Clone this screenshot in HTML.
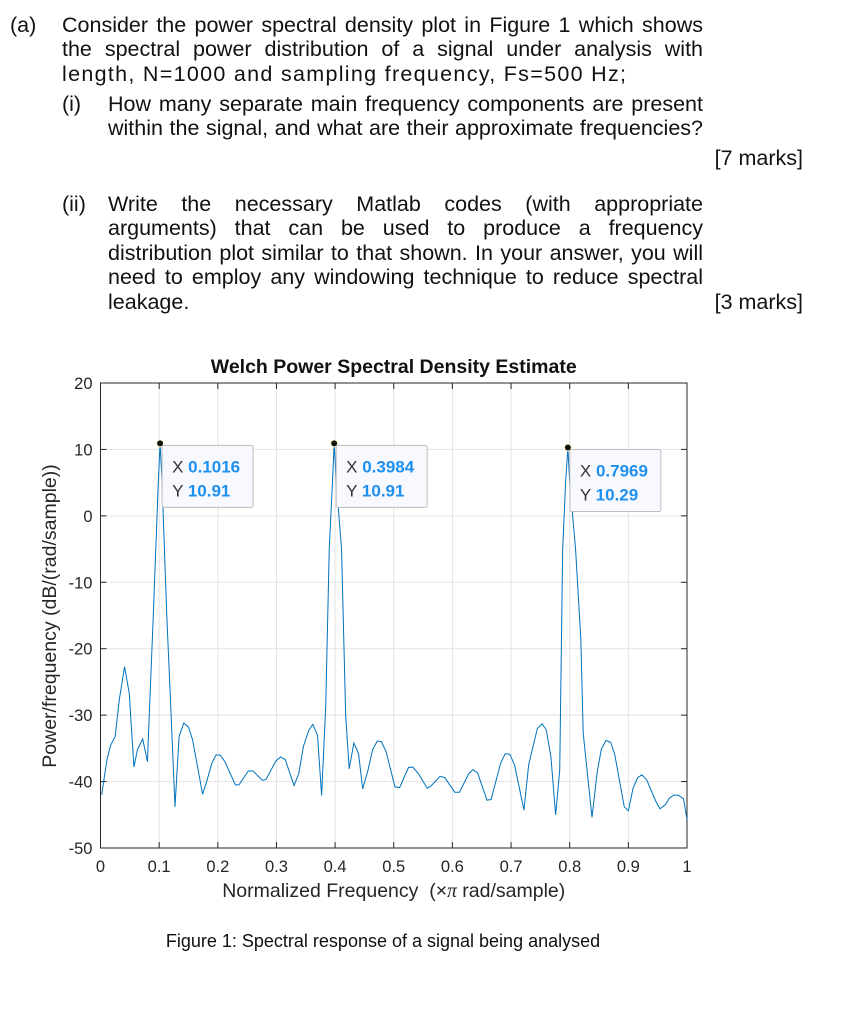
<!DOCTYPE html>
<html><head><meta charset="utf-8">
<style>
body{margin:0;width:841px;height:1024px;background:#fff;position:relative;font-family:"Liberation Sans",Arial,sans-serif;color:#111;overflow:hidden}
.t{position:absolute;font-size:21.5px;line-height:24.5px;height:25px;white-space:nowrap;overflow:hidden}
.j{text-align:justify;text-align-last:justify;white-space:normal}
</style></head><body>
<div class="t" style="left:10px;top:13px">(a)</div>
<div class="t j" style="left:62px;top:13px;width:641px">Consider the power spectral density plot in Figure 1 which shows</div>
<div class="t j" style="left:62px;top:37px;width:641px">the spectral power distribution of a signal under analysis with</div>
<div class="t" style="left:62px;top:62px;letter-spacing:1.3px">length, N=1000 and sampling frequency, Fs=500 Hz;</div>
<div class="t" style="left:62px;top:92px">(i)</div>
<div class="t j" style="left:108px;top:92px;width:595px">How many separate main frequency components are present</div>
<div class="t j" style="left:108px;top:116px;width:595px">within the signal, and what are their approximate frequencies?</div>
<div class="t" style="right:38px;top:146px">[7 marks]</div>
<div class="t" style="left:62px;top:192px">(ii)</div>
<div class="t j" style="left:108px;top:192px;width:595px">Write the necessary Matlab codes (with appropriate</div>
<div class="t j" style="left:108px;top:216px;width:595px">arguments) that can be used to produce a frequency</div>
<div class="t j" style="left:108px;top:241px;width:595px">distribution plot similar to that shown. In your answer, you will</div>
<div class="t j" style="left:108px;top:265px;width:595px">need to employ any windowing technique to reduce spectral</div>
<div class="t" style="left:108px;top:290px">leakage.</div>
<div class="t" style="right:38px;top:290px">[3 marks]</div>

<svg id="chart" width="841" height="1024" style="position:absolute;left:0;top:0" xmlns="http://www.w3.org/2000/svg" font-family="Liberation Sans, Arial, sans-serif"></svg>

<script>
const xTicks=[0,0.1,0.2,0.3,0.4,0.5,0.6,0.7,0.8,0.9,1];
const xTickLabels=["0","0.1","0.2","0.3","0.4","0.5","0.6","0.7","0.8","0.9","1"];
const yTicks=[20,10,0,-10,-20,-30,-40,-50];
const yTickLabels=["20","10","0","-10","-20","-30","-40","-50"];
const freq=[0.002,0.011,0.017,0.025,0.032,0.041,0.049,0.057,0.063,0.072,0.080,0.090,0.0985,0.1016,0.105,0.113,0.120,0.127,0.134,0.142,0.150,0.157,0.174,0.181,0.190,0.197,0.204,0.212,0.230,0.236,0.252,0.260,0.276,0.282,0.299,0.307,0.315,0.330,0.338,0.346,0.355,0.362,0.370,0.377,0.384,0.390,0.3955,0.3984,0.402,0.411,0.418,0.424,0.432,0.440,0.447,0.456,0.464,0.472,0.479,0.487,0.502,0.510,0.525,0.532,0.542,0.557,0.563,0.579,0.587,0.604,0.612,0.628,0.635,0.643,0.659,0.666,0.682,0.690,0.698,0.706,0.722,0.730,0.738,0.745,0.753,0.760,0.768,0.776,0.783,0.788,0.793,0.7969,0.800,0.810,0.819,0.823,0.838,0.847,0.854,0.862,0.870,0.877,0.893,0.900,0.908,0.916,0.923,0.931,0.947,0.954,0.963,0.970,0.978,0.986,0.994,1.0];
const power=[-42.0,-36.7,-34.6,-33.2,-27.7,-22.7,-26.7,-37.8,-35.2,-33.6,-37.0,-15,5,10.91,5,-15,-29.2,-43.8,-33.2,-31.2,-31.8,-33.7,-41.9,-40.0,-37.2,-36.0,-36.0,-37.0,-40.5,-40.5,-38.4,-38.4,-39.8,-39.7,-36.9,-36.3,-36.7,-40.6,-38.8,-34.7,-32.3,-31.4,-33.0,-42.1,-28.7,-5,5,10.91,5,-5,-30,-38.1,-34.2,-35.8,-41.1,-38.3,-35.2,-33.9,-34.0,-35.5,-40.8,-40.9,-37.9,-37.8,-38.8,-41.0,-40.7,-39.2,-39.4,-41.6,-41.6,-38.8,-38.2,-38.7,-42.8,-42.7,-37.3,-35.8,-35.9,-37.5,-44.3,-37.5,-34.5,-32.0,-31.3,-32.2,-36.3,-45.0,-38.3,-5,5,10.29,5,-5,-18.6,-32.7,-45.4,-38.5,-35.1,-33.8,-34.1,-36.0,-43.8,-44.4,-41.0,-39.4,-39.0,-39.7,-43.0,-44.1,-43.5,-42.5,-42.0,-42.1,-42.6,-45.7];
const tipX=[0.1016,0.3984,0.7969];
const tipY=[10.91,10.91,10.29];
const tipXLabels=["0.1016","0.3984","0.7969"];
const tipYLabels=["10.91","10.91","10.29"];

const L=100.5,R=687,T=383,B=848;
const sx=v=>L+(v-0)/(1-0)*(R-L);
const sy=v=>T+(20-v)/(20-(-50))*(B-T);
const svg=document.getElementById('chart');
function mk(tag,attrs,parent){const e=document.createElementNS('http://www.w3.org/2000/svg',tag);for(const k in attrs)e.setAttribute(k,attrs[k]);(parent||svg).appendChild(e);return e;}

const grid=mk('g',{});


xTicks.forEach(v=>{mk('line',{x1:sx(v),x2:sx(v),y1:T,y2:B,stroke:'#e3e3e3','stroke-width':1},grid);});
yTicks.forEach(v=>{mk('line',{x1:L,x2:R,y1:sy(v),y2:sy(v),stroke:'#e3e3e3','stroke-width':1},grid);});

const frame=mk('rect',{x:L,y:T,width:R-L,height:B-T,fill:'none',stroke:'#262626','stroke-width':1});



const xt=mk('g',{});


xTicks.forEach((v,i)=>{
  mk('line',{x1:sx(v),x2:sx(v),y1:B,y2:B-6,stroke:'#262626'},xt);
  mk('line',{x1:sx(v),x2:sx(v),y1:T,y2:T+6,stroke:'#262626'},xt);
  const t=mk('text',{x:sx(v),y:B+24,'text-anchor':'middle','font-size':16.5,fill:'#262626'},xt);
  t.textContent=xTickLabels[i];
  
  
});
const yt=mk('g',{});


yTicks.forEach((v,i)=>{
  mk('line',{x1:L,x2:L+6,y1:sy(v),y2:sy(v),stroke:'#262626'},yt);
  mk('line',{x1:R,x2:R-6,y1:sy(v),y2:sy(v),stroke:'#262626'},yt);
  const t=mk('text',{x:L-8,y:sy(v)+6,'text-anchor':'end','font-size':16.5,fill:'#262626'},yt);
  t.textContent=yTickLabels[i];
  
  
});

const line=mk('polyline',{points:freq.map((f,i)=>sx(f)+','+sy(power[i])).join(' '),fill:'none',stroke:'#0072bd','stroke-width':1});



tipX.forEach((v,i)=>{
  const g=mk('g',{});
  
  
  const px=sx(v),py=sy(tipY[i]);
  mk('circle',{cx:px,cy:py,r:3.5,fill:'#111',stroke:'#ffffcc','stroke-width':1},g);
  const bx=px+2,by=py+2;
  mk('rect',{x:bx,y:by,width:91,height:62,rx:2,fill:'#f8f8ff',stroke:'#bdbdbd','stroke-width':1},g);
  const t1=mk('text',{x:bx+10,y:by+27,'font-size':17,fill:'#333'},g);
  t1.innerHTML='X <tspan fill="#1e90f0" font-weight="bold">'+tipXLabels[i]+'</tspan>';
  const t2=mk('text',{x:bx+10,y:by+51,'font-size':17,fill:'#333'},g);
  t2.innerHTML='Y <tspan fill="#1e90f0" font-weight="bold">'+tipYLabels[i]+'</tspan>';
});

const title=mk('text',{x:(L+R)/2,y:373,'text-anchor':'middle','font-size':19.5,'font-weight':'bold',fill:'#111'});
title.textContent='Welch Power Spectral Density Estimate';


const xl=mk('text',{x:(L+R)/2,y:897,'text-anchor':'middle','font-size':19.5,fill:'#262626'});
xl.innerHTML='Normalized Frequency &#160;(×<tspan font-style="italic" font-family="Liberation Serif, serif">π</tspan> rad/sample)';


const yl=mk('text',{x:0,y:0,'text-anchor':'middle','font-size':19.5,fill:'#262626',transform:'translate(56,616) rotate(-90)'});
yl.textContent='Power/frequency (dB/(rad/sample))';


const cap=mk('text',{x:383,y:947,'text-anchor':'middle','font-size':18,fill:'#111'});
cap.textContent='Figure 1: Spectral response of a signal being analysed';


</script>
</body></html>
